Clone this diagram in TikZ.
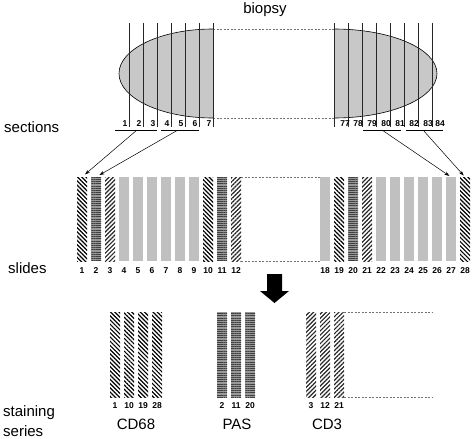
\documentclass[tikz,border=0pt]{standalone}
\usepackage{fontspec}
\setmainfont{Liberation Sans}
\usetikzlibrary{patterns.meta,arrows.meta}
\definecolor{ellgray}{RGB}{200,200,200}
\definecolor{slgray}{RGB}{192,192,192}
\tikzset{
  lbl/.style={font=\fontsize{15}{17}\selectfont, inner sep=0pt},
  num/.style={font=\fontsize{8.5}{9}\selectfont\bfseries, inner sep=0pt},
  slide/.style={minimum width=10pt, minimum height=84pt, inner sep=0pt, outer sep=0pt, anchor=north west},
  cdsix/.style={pattern={Lines[angle=-45,distance=3pt,line width=1.2pt]}, pattern color=black},
  cdthree/.style={pattern={Lines[angle=45,distance=3pt,line width=1.2pt]}, pattern color=black!85},
  pas/.style={preaction={fill=black!40}, pattern={Lines[angle=0,distance=2.2pt,line width=0.8pt]}, pattern color=black!75},
  plain/.style={fill=slgray},
  cut/.style={line width=0.7pt, black!85},
  uline/.style={line width=0.6pt},
  gap/.style={dashed, dash pattern=on 2pt off 1.5pt, black!55, line width=0.5pt},
  link/.style={line width=0.5pt, -{Stealth[length=5pt,width=3.5pt]}},
}
\begin{document}
\begin{tikzpicture}[x=1pt,y=-1pt]
\useasboundingbox (0,0) rectangle (474,439);
% biopsy
\node[lbl] (biopsy) at (265,10) {biopsy};
\begin{scope}
  \clip (0,0) rectangle (213,200);
  \draw[fill=ellgray, line width=0.6pt] (213,73.5) ellipse [x radius=94, y radius=44.5];
\end{scope}
\begin{scope}
  \clip (334,0) rectangle (474,200);
  \draw[fill=ellgray, line width=0.6pt] (334,73.5) ellipse [x radius=103, y radius=44.5];
\end{scope}
\draw[gap] (213,29) -- (334,29);
\draw[gap] (213,118) -- (334,118);
% section cuts
\foreach \i in {1,...,7} {
  \draw[cut] (115+14*\i,23) -- (115+14*\i,127);
  \node[num] (c\i) at (111+14*\i,124) {\i};
}
\foreach \i [count=\j] in {77,...,84} {
  \draw[cut] (320+14*\j,23) -- (320+14*\j,127);
}
\foreach \i/\x in {77/345,78/358,79/372,80/386,81/400,82/414,83/428,84/440} {
  \node[num] (c\i) at (\x,124) {\i};
}
\draw[uline] (115,130) -- (157,130);
\draw[uline] (161,130) -- (199,130);
\draw[uline] (363,130) -- (401,130);
\draw[uline] (406,130) -- (443,130);
\coordinate (u1) at (137,130);
\coordinate (u2) at (178,130);
\coordinate (u3) at (382,130);
\coordinate (u4) at (423,130);
\node[lbl, anchor=west] (sections) at (4,127) {sections};
% slides
\foreach \k/\s in {1/cdsix,2/pas,3/cdthree,4/plain,5/plain,6/plain,7/plain,8/plain,9/plain,10/cdsix,11/pas,12/cdthree,18/plain,19/cdsix,20/pas,21/cdthree,22/plain,23/plain,24/plain,25/plain,26/plain,27/plain,28/cdsix} {
  \pgfmathsetmacro\xl{\k<13 ? 77+14*(\k-1) : 320+14*(\k-18)}
  \node[slide,\s] (s\k) at (\xl,177) {};
  \node[num] (n\k) at (\xl+5,271) {\k};
}
\draw[gap] (s12.north east) -- (s18.north west);
\draw[gap] (s12.south east) -- (s18.south west);
\node[lbl, anchor=west] (slides) at (8,268) {slides};
\draw[link, shorten >=4pt] (u1) -- (s1.north);
\draw[link, shorten >=4pt] (u2) -- (s2.north);
\draw[link, shorten >=2pt] (u3) -- (s27.north);
\draw[link, shorten >=2pt] (u4) -- (s28.north);
% big arrow
\fill[black] (267,274) -- (282,274) -- (282,291) -- (289,291) -- (274.5,303) -- (260,291) -- (267,291) -- cycle;
% staining series
\foreach \k/\s/\x in {1/cdsix/110,10/cdsix/124,19/cdsix/138,28/cdsix/152,2/pas/217,11/pas/231,20/pas/245,3/cdthree/306,12/cdthree/320,21/cdthree/334} {
  \node[slide,\s,minimum height=85pt] (b\k) at (\x,312) {};
  \node[num] (m\k) at (\x+5,406) {\k};
}
\coordinate (e1) at (433,312);
\coordinate (e2) at (433,397);
\draw[gap] (b21.north east) -- (e1);
\draw[gap] (b21.south east) -- (e2);
\node[lbl] (cdsixlbl) at (136,424) {CD68};
\node[lbl] (paslbl) at (237,424) {PAS};
\node[lbl] (cdthreelbl) at (327,424) {CD3};
\node[lbl, anchor=west] (staining) at (3,413) {staining};
\node[lbl, anchor=west] (series) at (3,431) {series};
\end{tikzpicture}
\end{document}
